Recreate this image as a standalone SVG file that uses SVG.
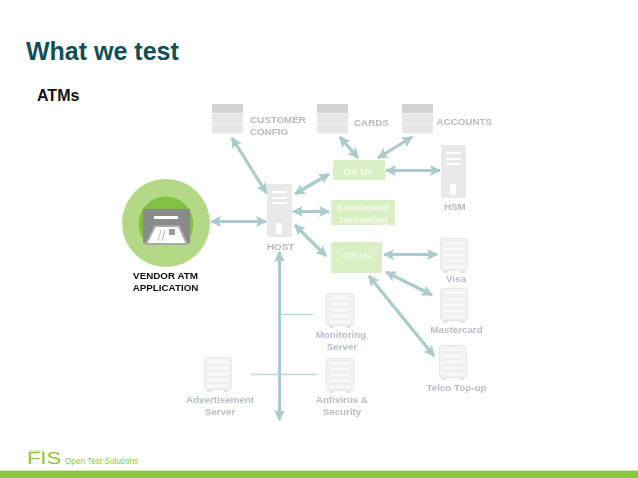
<svg xmlns="http://www.w3.org/2000/svg" width="638" height="478" viewBox="0 0 638 478">
<style>
text{font-family:"Liberation Sans",Arial,sans-serif;font-weight:bold}
.db{font-size:9.800px;fill:#b9b9b9}
.sv{font-size:9.800px;fill:#b6bdcc;text-anchor:middle}
.bx{font-size:9.800px;fill:#f4fbec;text-anchor:middle}
.gb{fill:#d9efc4}
.a{stroke:#a9cbcb;stroke-width:3.200;fill:none;marker-start:url(#h);marker-end:url(#h)}
.t{stroke:#b4dcdc;stroke-width:1.600;fill:none}
.d1{fill:#d2d2d2}.d2{fill:#e6e6e6}
.rb{fill:#f5f5f5;stroke:#e6e6e6;stroke-width:1}
.rs{fill:#fafafa;stroke:#e8e8e8;stroke-width:.8}
</style>
<defs>
<marker id="h" viewBox="0 0 10 10" refX="9" refY="5" markerWidth="11" markerHeight="11" markerUnits="userSpaceOnUse" orient="auto-start-reverse"><path d="M0 0L10 5L0 10L2 5Z" fill="#a9cbcb"/></marker>
<g id="dbi"><rect class="d1" width="31" height="9"/><rect class="d2" y="9.500" width="31" height="9.500"/><rect class="d2" y="19.500" width="31" height="9.500"/></g>
<g id="srv"><rect fill="#e8e8e8" width="25" height="53"/><rect fill="#fff" x="5" y="7" width="15" height="2"/><rect fill="#fff" x="5" y="13" width="15" height="2"/><rect fill="#fff" x="5" y="18" width="15" height="2"/><rect fill="#fff" x="9" y="39" width="6" height="11" rx="1"/></g>
<g id="rack"><rect class="rb" x=".5" y=".5" width="27" height="32" rx="2"/><rect class="rs" x="3" y="3" width="22" height="4"/><rect class="rs" x="3" y="9" width="22" height="4"/><rect class="rs" x="3" y="15" width="22" height="4"/><rect class="rs" x="3" y="21" width="22" height="4"/><rect class="rs" x="3" y="27" width="22" height="4"/><rect fill="#e6e6e6" x="3" y="33" width="5" height="2"/><rect fill="#e6e6e6" x="20" y="33" width="5" height="2"/></g>
<clipPath id="ic"><rect x="130" y="190" width="70" height="47"/></clipPath>
<filter id="soft" x="-5%" y="-5%" width="110%" height="110%"><feGaussianBlur stdDeviation=".35"/></filter>
</defs>
<text x="26" y="60" font-size="25" style="fill:#0e5057">What we test</text>
<text x="37" y="101" font-size="16" style="fill:#111">ATMs</text>
<g filter="url(#soft)">
<g id="connectors">
<path class="a" d="M232 138L266.500 193"/>
<path class="a" d="M211 221.500H266"/>
<path class="a" d="M295 194L329 174"/>
<path class="a" d="M293 211.500H329"/>
<path class="a" d="M295 225L326 256"/>
<path class="a" d="M340 137L358 158"/>
<path class="a" d="M412 137L378 158"/>
<path class="a" d="M386 170.500H440"/>
<path class="a" d="M384 254.500H437"/>
<path class="a" d="M386 272L432 295"/>
<path class="a" d="M369 276L434 356"/>
<path class="a" d="M279.500 252V420"/>
<path class="t" d="M280 314.500H313"/>
<path class="t" d="M251 374.500H317"/>
</g>
<g id="vendor-atm">
<circle cx="166" cy="223" r="44" fill="#b3d987"/>
<circle cx="166" cy="224" r="27.500" fill="#7fc241" clip-path="url(#ic)"/>
<path d="M143 209H190V243H184L178 226H155L148 243H143Z" fill="#8a8a8a"/>
<rect x="154" y="216" width="24" height="3" fill="#fff"/>
<path d="M155 226H179L187 244H146Z" fill="#fff" stroke="#a9a9a9" stroke-width="2"/>
<rect x="169" y="229" width="6" height="6" fill="#999"/>
<path d="M161 230L158 241M165 230L162 241" stroke="#aaa" stroke-width=".8"/>
<text x="165.500" y="279" font-size="9.800" text-anchor="middle" style="fill:#111">VENDOR ATM</text>
<text x="165.500" y="291" font-size="9.800" text-anchor="middle" style="fill:#111">APPLICATION</text>
</g>
<g id="customer-config"><use href="#dbi" x="212" y="104"/><text class="db" x="250" y="123">CUSTOMER</text><text class="db" x="250" y="135">CONFIG</text></g>
<g id="cards"><use href="#dbi" x="317" y="104"/><text class="db" x="354" y="126">CARDS</text></g>
<g id="accounts"><use href="#dbi" x="402" y="104"/><text class="db" x="436.500" y="125">ACCOUNTS</text></g>
<g id="host"><use href="#srv" x="267" y="184"/><text class="db" x="267" y="250">HOST</text></g>
<g id="hsm"><use href="#srv" x="441" y="145"/><text class="db" x="444" y="210">HSM</text></g>
<g id="on-us"><rect class="gb" x="333" y="160" width="52" height="20"/><text class="bx" x="358" y="175">On Us</text></g>
<g id="settlement"><rect class="gb" x="331" y="200" width="64" height="25"/><text class="bx" x="363" y="211">Settlement/</text><text class="bx" x="363" y="223">Journaling</text></g>
<g id="off-us"><rect class="gb" x="331" y="242" width="51" height="31"/><text class="bx" x="357" y="259">Off Us</text></g>
<g id="visa"><use href="#rack" x="440" y="238"/><text class="sv" x="456" y="282">Visa</text></g>
<g id="mastercard"><use href="#rack" x="440" y="288"/><text class="sv" x="456.500" y="333">Mastercard</text></g>
<g id="telco"><use href="#rack" x="439" y="345"/><text class="sv" x="456.500" y="391">Telco Top-up</text></g>
<g id="monitoring"><use href="#rack" x="326" y="293"/><text class="sv" x="341" y="338">Monitoring</text><text class="sv" x="342" y="350">Server</text></g>
<g id="antivirus"><use href="#rack" x="326" y="358"/><text class="sv" x="342" y="403">Antivirus &amp;</text><text class="sv" x="342" y="415">Security</text></g>
<g id="advertisement"><use href="#rack" x="204" y="357"/><text class="sv" x="220" y="403">Advertisement</text><text class="sv" x="220" y="415">Server</text></g>
</g>
<g id="footer">
<rect x="0" y="471" width="638" height="7" fill="#8cc63f"/>
<rect x="0" y="470" width="638" height="1" fill="#cfe8ae"/>
<text x="27" y="464" font-size="16" textLength="34" lengthAdjust="spacingAndGlyphs" style="font-weight:normal;fill:#8cc63f">FIS</text>
<path d="M30 451H45" stroke="#8cc63f" stroke-width="1" stroke-dasharray="1.500 1.500"/>
<text x="65" y="464" font-size="8.200" style="font-weight:normal;fill:#8cc63f">Open Test Solutions</text>
</g>
</svg>
